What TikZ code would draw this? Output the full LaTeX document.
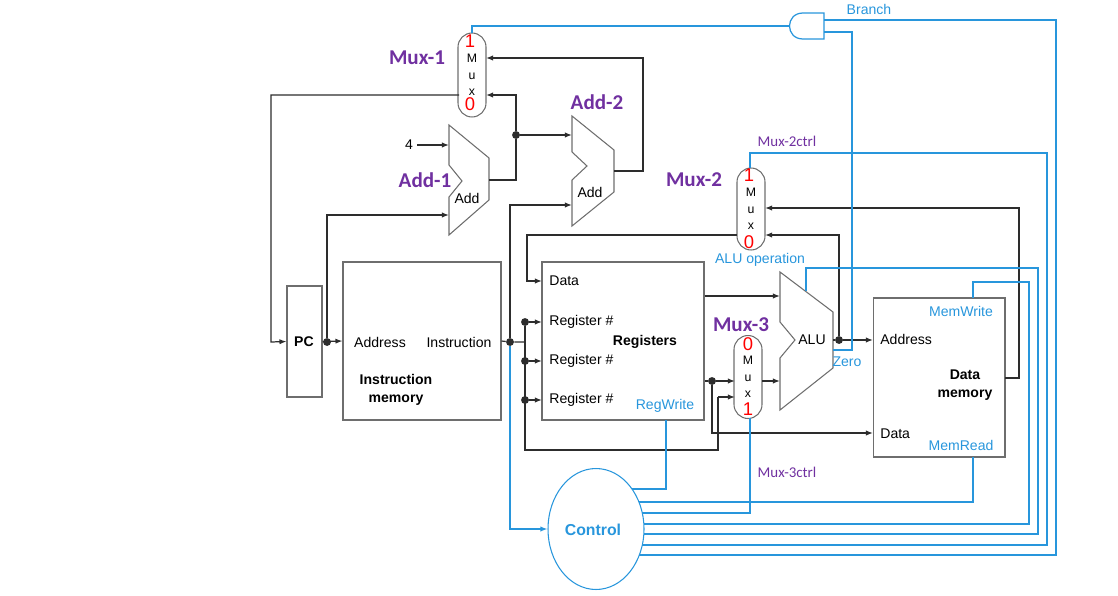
\documentclass[tikz,border=0pt]{standalone}
\usepackage{fontspec}
\setmainfont{Liberation Sans}
\newfontfamily\calib{Carlito}
\usetikzlibrary{arrows.meta,shapes.geometric}
\definecolor{wire}{RGB}{45,45,45}
\definecolor{ctl}{RGB}{40,150,220}
\definecolor{lbl}{RGB}{112,48,160}
\definecolor{box}{RGB}{110,110,110}
\begin{document}
\begin{tikzpicture}[x=0.02cm,y=-0.02cm,
  txt/.style={font=\fontsize{8}{9.5}\selectfont,inner sep=0pt},
  btxt/.style={font=\fontsize{8}{10}\selectfont\bfseries,inner sep=0pt,align=center},
  ctxt/.style={txt,text=ctl},
  mlbl/.style={font=\calib\fontsize{12}{14}\selectfont\bfseries,text=lbl,inner sep=0pt},
  slbl/.style={font=\calib\fontsize{8.5}{10}\selectfont,text=lbl,inner sep=0pt},
  dig/.style={font=\fontsize{10.5}{11}\selectfont,text=red,inner sep=0pt},
  blk/.style={draw=box,line width=0.6pt,rectangle,inner sep=0pt},
  mux/.style={draw=box,line width=0.6pt,rectangle,rounded corners=0.28cm,minimum width=0.56cm,inner sep=0pt,
    align=center,font=\fontsize{7}{9.5}\selectfont},
  w/.style={draw=wire,line width=0.7pt},
  a/.style={w,-{Latex[length=4pt,width=3pt]}},
  c/.style={draw=ctl,line width=0.7pt},
  ca/.style={c,-{Latex[length=4pt,width=3pt]}},
  dot/.style={fill=wire,circle,inner sep=0pt,minimum size=4.5pt},
  unit/.style={draw=box,line width=0.6pt,fill=white}]
\useasboundingbox (0,0) rectangle (1118,595);

% ---- blocks
\node[blk,minimum width=0.7cm,minimum height=2.22cm] (pc) at (304.5,341.5) {};
\node[btxt] at (304,342) {PC};
\node[blk,minimum width=3.16cm,minimum height=3.16cm] (im) at (422,341) {};
\node[txt] at (380,342) {Address};
\node[txt] at (459,342) {Instruction};
\node[btxt] at (396,390) {Instruction\\memory};
\node[blk,minimum width=3.24cm,minimum height=3.16cm] (rf) at (623,341) {};
\node[txt,anchor=west] at (549,281) {Data};
\node[txt,anchor=west] at (549,322) {Register \#};
\node[txt,anchor=west] at (549,361) {Register \#};
\node[txt,anchor=west] at (549,400) {Register \#};
\node[btxt] at (645,342) {Registers};
\node[ctxt] (rw) at (665,406) {RegWrite};
\node[blk,minimum width=2.64cm,minimum height=3.18cm] (dm) at (939,377.5) {};
\node[txt,anchor=west] at (880,339) {Address};
\node[txt,anchor=west] at (880,434) {Data};
\node[btxt] at (965,385) {Data\\memory};
\node[ctxt] at (961,311) {MemWrite};
\node[ctxt] at (961,445) {MemRead};

% adders and ALU
\draw[unit] (449,125) -- (489,158) -- (489,200) -- (449,235) -- (449,197) -- (462,181) -- (449,165) -- cycle;
\node[txt] at (467,198) {Add};
\draw[unit] (572,116) -- (614,150) -- (614,192) -- (572,226) -- (572,180) -- (587,166) -- (572,152) -- cycle;
\node[txt] at (590,192) {Add};
\draw[unit] (780,272) -- (833,312) -- (833,368) -- (780,410) -- (780,358) -- (795,340) -- (780,322) -- cycle;
\node[txt] at (812,340) {ALU};

% muxes
\node[mux,minimum height=1.68cm] (m1) at (472,75) {M\\u\\x};
\node[mux,minimum height=1.64cm] (m2) at (751,209) {M\\u\\x};
\node[mux,minimum height=1.66cm] (m3) at (748,377) {M\\u\\x};
\node[dig] at (470,41) {1}; \node[dig] at (470,104) {0};
\node[dig] at (749,175) {1}; \node[dig] at (749,242) {0};
\node[dig] at (748,344) {0}; \node[dig] at (748,409) {1};
\node[mlbl] at (417,58) {Mux-1};
\node[mlbl] at (597,102) {Add-2};
\node[mlbl] at (425,180) {Add-1};
\node[mlbl] at (694,180) {Mux-2};
\node[mlbl] at (741,325) {Mux-3};
\node[slbl] at (787,141) {Mux-2ctrl};
\node[slbl] at (787,472) {Mux-3ctrl};

% control and AND gate
\node[draw=ctl,line width=0.6pt,ellipse,minimum width=1.92cm,minimum height=2.42cm] (ctrl) at (596,529) {};
\node[btxt,text=ctl,font=\fontsize{9}{10}\selectfont\bfseries] at (593,530) {Control};
\draw[c,fill=white] (824,13) -- (803,13) .. controls (785,13) and (785,39) .. (803,39) -- (824,39) -- cycle;
\coordinate (and) at (790,26);
\node[ctxt] at (869,9) {Branch};
\node[ctxt] at (760,260) {ALU operation};
\node[ctxt] at (847,362) {Zero};

% ---- datapath wires
\node[txt] (four) at (409,145) {4};
\draw[a] (four.east)+(4,0) -- (449,145);
\node[dot] (pcd) at (327,342) {};
\draw[a] (pc.east) -- (im.west);
\draw[a] (pcd) |- (449,215);
\node[dot] (a1d) at (516,135) {};
\draw[w] (489,180) -| (a1d);
\draw[a] (a1d) -- (572,135);
\draw[a] (a1d) |- (486,95);
\draw[a] (614,171) -| (643,58) -- (486,58);
\draw[a] (459,95) -| (271,342) -- (pc.west);
\node[dot] (insd) at (510,342) {};
\draw[w] (im.east) -- (insd) -- (525,342);
\draw[a] (insd) |- (572,205);
\node[dot] (r1d) at (525,322) {};
\node[dot] (r2d) at (525,361) {};
\node[dot] (r3d) at (525,400) {};
\draw[w] (r1d) -- (525,450) -| (718,397);
\draw[a] (718,397) -- (735,397);
\draw[a] (r1d) -- (542,322);
\draw[a] (r2d) -- (542,361);
\draw[a] (r3d) -- (542,400);
\draw[a] (rf.east |- 0,296) -- (780,296);
\node[dot] (r2o) at (712,381) {};
\draw[w] (rf.east |- 0,381) -- (r2o);
\draw[a] (r2o) -- (735,381);
\draw[a] (r2o) |- (873,433);
\draw[a] (762,381) -- (780,381);
\node[dot] (alud) at (839,340) {};
\draw[w] (833,340) -- (alud);
\draw[a] (alud) -- (873,340);
\draw[a] (alud) |- (765,235);
\draw[a] (1005,378) -| (1019,208) -- (765,208);
\draw[a] (737,235) -| (527,281) -- (542,281);

% ---- control wires
\draw[c] (and) -| (472,33);
\draw[c] (824,20) -| (1056,555) -- (639,555);
\draw[c] (824,32) -| (852,350) -- (833,350);
\draw[c] (750,168) |- (1047,153) -- (1047,545) -- (642,545);
\draw[c] (806,291) |- (1038,268) -- (1038,534) -- (644,534);
\draw[c] (973,298) |- (1029,282) -- (1029,524) -- (644,524);
\draw[c] (973,457) |- (639,502);
\draw[c] (750,418) |- (642,513);
\draw[c] (666,420) |- (632,489);
\draw[ca] (insd) |- (ctrl.west);
\end{tikzpicture}
\end{document}
